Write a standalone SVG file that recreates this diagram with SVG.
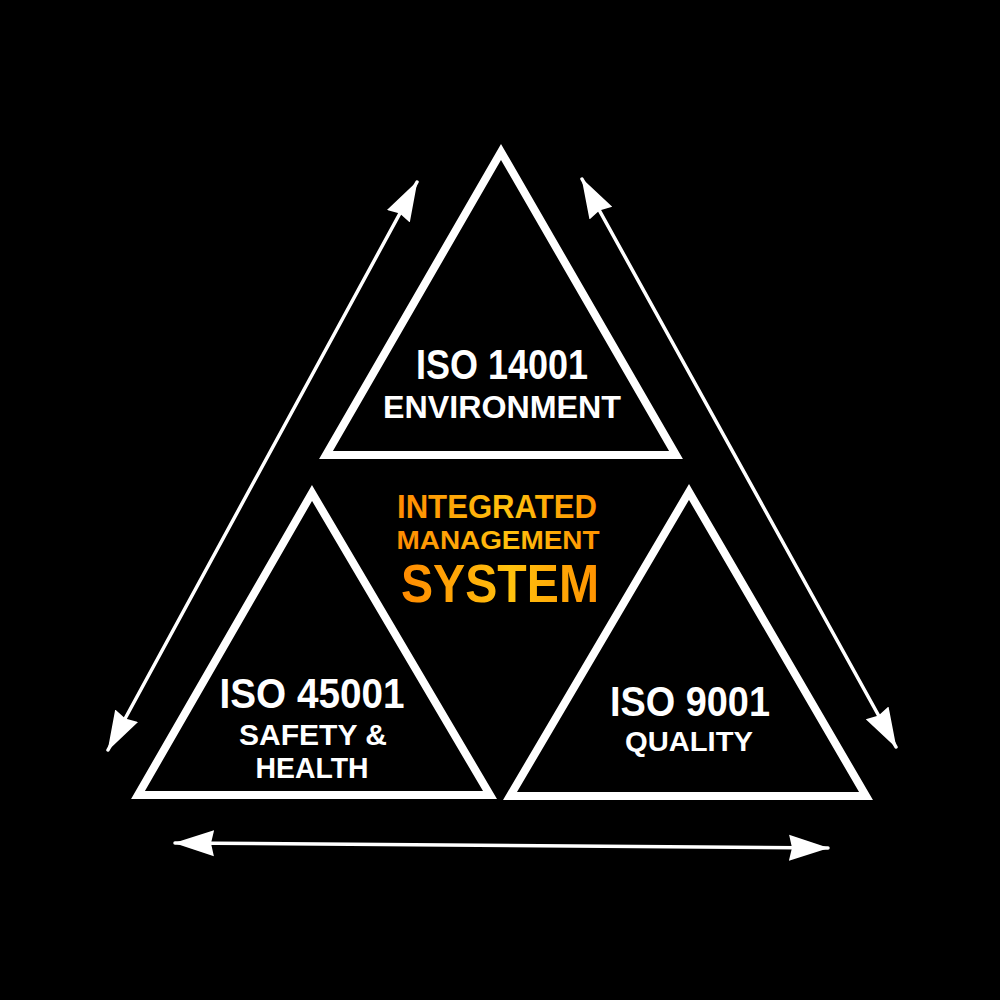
<svg xmlns="http://www.w3.org/2000/svg" width="1000" height="1000" viewBox="0 0 1000 1000">
  <defs>
    <style>
      .tri { fill: none; stroke: #fff; stroke-width: 8; stroke-linejoin: miter; }
      .lbl { font-family: "Liberation Sans", Arial, sans-serif; font-weight: 700; fill: #fff; text-anchor: middle; }
      .imsl { font-family: "Liberation Sans", Arial, sans-serif; font-weight: 700; fill: url(#orange); text-anchor: middle; }
      .conn { stroke: #fff; stroke-width: 3.5; fill: none; stroke-linecap: round; }
    </style>
    <linearGradient id="orange" x1="0" y1="0" x2="1" y2="0">
      <stop offset="0" stop-color="#ff8a00"/>
      <stop offset="0.55" stop-color="#ffc20e"/>
      <stop offset="1" stop-color="#ff9200"/>
    </linearGradient>
    <marker id="ah" viewBox="0 0 40 28" refX="39" refY="14" markerWidth="40" markerHeight="28" markerUnits="userSpaceOnUse" orient="auto-start-reverse">
      <path d="M0,1 L40,14 L0,27 L3,14 Z" fill="#fff"/>
    </marker>
  </defs>
  <rect width="1000" height="1000" fill="#000"/>

  <g id="connectors">
    <line class="conn" x1="108" y1="750" x2="417" y2="182" marker-start="url(#ah)" marker-end="url(#ah)"/>
    <line class="conn" x1="582" y1="179" x2="896" y2="747" marker-start="url(#ah)" marker-end="url(#ah)"/>
    <line class="conn" x1="175" y1="843" x2="828" y2="848" marker-start="url(#ah)" marker-end="url(#ah)"/>
  </g>

  <g id="iso14001">
    <path class="tri" d="M501,152 L676,455 L326,455 Z"/>
    <text class="lbl" x="502" y="379" font-size="42" textLength="172" lengthAdjust="spacingAndGlyphs">ISO 14001</text>
    <text class="lbl" x="502" y="418" font-size="32" textLength="238" lengthAdjust="spacingAndGlyphs">ENVIRONMENT</text>
  </g>

  <g id="iso45001">
    <path class="tri" d="M312,493 L490,795 L138,795 Z"/>
    <text class="lbl" x="312" y="708" font-size="42" textLength="185" lengthAdjust="spacingAndGlyphs">ISO 45001</text>
    <text class="lbl" x="313" y="745" font-size="29" textLength="148" lengthAdjust="spacingAndGlyphs">SAFETY &amp;</text>
    <text class="lbl" x="312" y="778" font-size="29" textLength="113" lengthAdjust="spacingAndGlyphs">HEALTH</text>
  </g>

  <g id="iso9001">
    <path class="tri" d="M689,492 L866,796 L510,796 Z"/>
    <text class="lbl" x="690" y="716" font-size="42" textLength="160" lengthAdjust="spacingAndGlyphs">ISO 9001</text>
    <text class="lbl" x="689" y="751" font-size="28" textLength="128" lengthAdjust="spacingAndGlyphs">QUALITY</text>
  </g>

  <g id="ims">
    <text class="imsl" x="497" y="518" font-size="34" textLength="200" lengthAdjust="spacingAndGlyphs">INTEGRATED</text>
    <text class="imsl" x="498" y="549" font-size="26" textLength="203" lengthAdjust="spacingAndGlyphs">MANAGEMENT</text>
    <text class="imsl" x="500" y="602" font-size="54" textLength="198" lengthAdjust="spacingAndGlyphs">SYSTEM</text>
  </g>
</svg>
